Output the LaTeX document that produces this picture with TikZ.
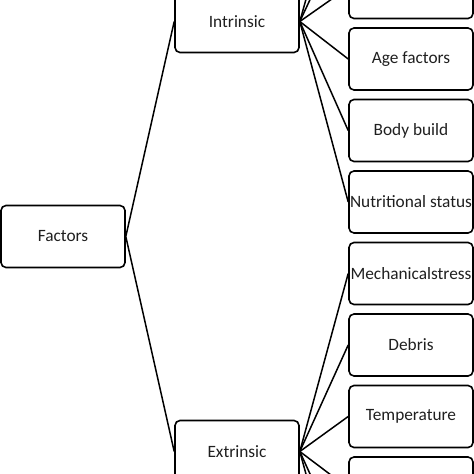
\documentclass[tikz,border=0pt]{standalone}
\usepackage{fontspec}
\setmainfont{Carlito}
\usetikzlibrary{calc}

\begin{document}
\begin{tikzpicture}[x=1pt,y=-1pt,
  box/.style={draw=black, line width=1.6pt, rounded corners=5pt, minimum width=124pt, minimum height=62pt, inner sep=0pt, text=black!88, font=\fontsize{17.3}{20}\selectfont},
  link/.style={black, line width=1.5pt}]
\useasboundingbox (0,0) rectangle (474,474);
\clip (0,0) rectangle (474,474);
\node[box] (Fac) at (63,236.5) {Factors};
\node[box] (Int) at (237,21.5) {Intrinsic};
\node[box] (Ext) at (237,451.5) {Extrinsic};
% right column
\node[box] (Top) at (411,-12.5) {};
\node[box] (Age) at (411,59) {Age factors};
\node[box] (Body) at (411,130.5) {Body build};
\node[box] (Nutr) at (411,202) {Nutritional status};
\node[box] (Mech) at (411,273.5) {Mechanicalstress};
\node[box] (Deb) at (411,345) {Debris};
\node[box] (Temp) at (411,416.5) {Temperature};
\node[box] (Bot) at (411,488) {};
\coordinate (H1) at (349,-155);
\coordinate (H2) at (349,-83.5);
\coordinate (H3) at (349,559.5);
\coordinate (H4) at (349,631);
\draw[link] (Fac.east) -- (Int.west);
\draw[link] (Fac.east) -- (Ext.west);
\foreach \n in {H1,H2,Top.west,Age.west,Body.west,Nutr.west}
  \draw[link] (Int.east) -- (\n);
\foreach \n in {Mech.west,Deb.west,Temp.west,Bot.west,H3,H4}
  \draw[link] (Ext.east) -- (\n);
\end{tikzpicture}
\end{document}
